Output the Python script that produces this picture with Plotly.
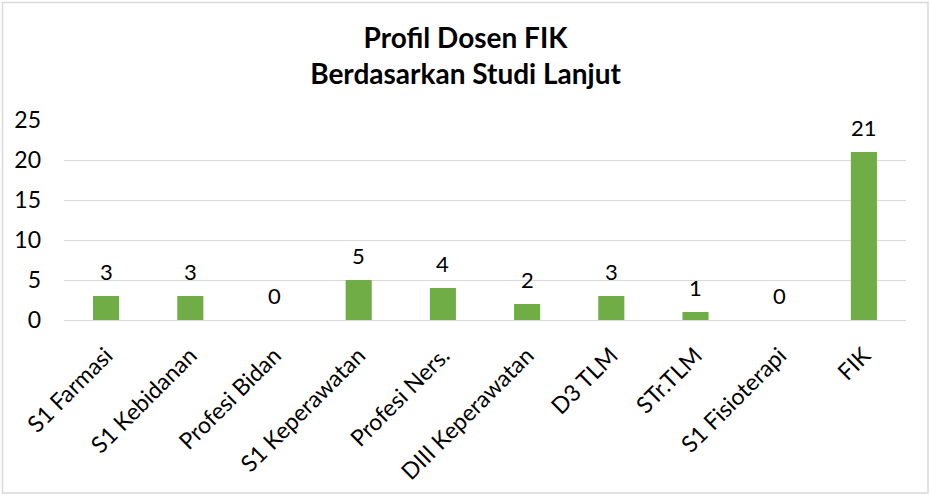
import plotly.graph_objects as go

categories = ["S1 Farmasi", "S1 Kebidanan", "Profesi Bidan", "S1 Keperawatan", "Profesi Ners.",
              "DIII Keperawatan", "D3 TLM", "STr.TLM", "S1 Fisioterapi", "FIK"]
jumlah_dosen = [3, 3, 0, 5, 4, 2, 3, 1, 0, 21]
y_ticks = [0, 5, 10, 15, 20, 25]

font_name = "Lato, Carlito, Calibri, sans-serif"

fig = go.Figure()
fig.add_bar(
    x=categories,
    y=jumlah_dosen,
    marker=dict(color="#70AD47", line=dict(width=0)),
    width=0.31,
    hoverinfo="x+y",
)

# value labels above bars (a bit further away than plotly's own "outside" text)
for cat, val in zip(categories, jumlah_dosen):
    fig.add_annotation(
        x=cat, y=val, text=str(val),
        showarrow=False, yanchor="bottom", yshift=9,
        font=dict(size=22, color="black", family=font_name),
    )

fig.update_layout(
    width=931,
    height=495,
    margin=dict(l=64, r=25, t=120, b=175),
    plot_bgcolor="white",
    paper_bgcolor="white",
    showlegend=False,
    font=dict(family=font_name, size=22, color="black"),
    title=dict(
        text="<b>Profil Dosen FIK<br>Berdasarkan Studi Lanjut</b>",
        x=0.5, xref="container", xanchor="center",
        y=1 - 48 / 495, yref="container", yanchor="top",
        font=dict(size=28, color="black", family=font_name),
    ),
    shapes=[dict(
        type="rect", xref="paper", yref="paper",
        x0=(2.5 - 64) / 842, x1=(928 - 64) / 842,
        y0=(320 - 493) / 200, y1=(320 - 2.5) / 200,
        line=dict(color="#D9D9D9", width=1.5),
    )],
)
fig.update_xaxes(
    tickangle=-45,
    automargin=False,
    showline=True, linecolor="#D9D9D9", linewidth=1,
    showgrid=False, ticks="",
    tickfont=dict(size=23),
    ticklabelstandoff=12,
)
fig.update_yaxes(
    range=[0, 25],
    tickvals=y_ticks,
    automargin=False,
    showgrid=True, gridcolor="#D9D9D9", gridwidth=1,
    zeroline=False, showline=False, ticks="",
    tickfont=dict(size=23),
    ticklabelstandoff=22,
)

# drop the default 8px body margin so the figure sits at the window's corner
fig.write_html("out.html", config={"displayModeBar": False},
               post_script="document.body.style.margin='0';")
